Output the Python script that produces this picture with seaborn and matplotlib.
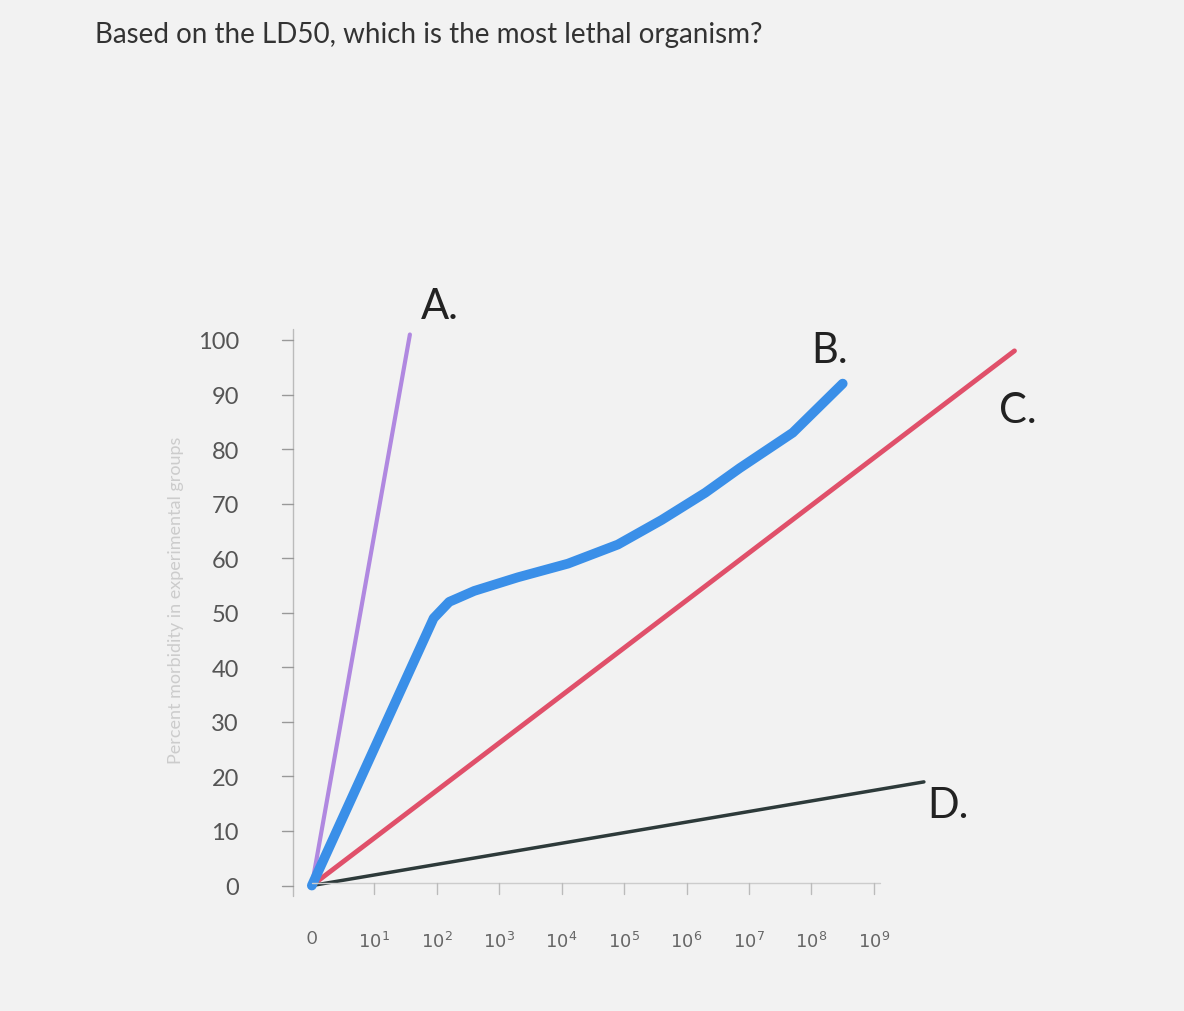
import matplotlib
matplotlib.use("Agg")
import matplotlib.pyplot as plt
import seaborn as sns
import pandas as pd

# x positions are in "decade" units: 0 -> 0, i -> 10^i
tick_pos = list(range(10))
tick_labels = ["0"] + [f"$10^{{{i}}}$" for i in range(1, 10)]
y_ticks = list(range(0, 101, 10))

a_x = [0, 1.57]
a_y = [0, 101]
b_x = [0, 1.95, 2.2, 2.6, 3.3, 4.1, 4.9, 5.6, 6.3, 6.85, 7.7, 8.5]
b_y = [0, 49, 52, 54, 56.5, 59, 62.5, 67, 72, 76.5, 83, 92]
c_x = [0, 11.25]
c_y = [0, 98]
d_x = [0, 9.8]
d_y = [0, 19]

sns.set_style("white")
plt.rcParams['font.family'] = ['Lato', 'DejaVu Sans']

fig = plt.figure(figsize=(11.84, 10.12), dpi=100)
fig.patch.set_facecolor("#f2f2f2")
fig.text(0.08, 0.965, "Based on the LD50, which is the most lethal organism?",
         fontsize=20, color="#333333", va="center")

ax = fig.add_axes([0.237, 0.097, 0.633, 0.62])
ax.set_facecolor("#f2f2f2")

lines = [
    (a_x, a_y, "#b088e0", 3, "A."),
    (c_x, c_y, "#e0506a", 3.5, "C."),
    (d_x, d_y, "#2d3a3a", 2.5, "D."),
    (b_x, b_y, "#3a8fe8", 7, "B."),
]
for xs, ys, color, lw, name in lines:
    df = pd.DataFrame({"x": xs, "y": ys})
    sns.lineplot(data=df, x="x", y="y", color=color, linewidth=lw, ax=ax,
                 sort=False, solid_capstyle="round")

ax.text(1.75, 104, "A.", fontsize=30, color="#222222")
ax.text(8.0, 96, "B.", fontsize=30, color="#222222")
ax.text(11.0, 85, "C.", fontsize=30, color="#222222")
ax.text(9.85, 12.5, "D.", fontsize=30, color="#222222")

ax.set_xlim(-0.5, 11.5)
ax.set_ylim(-5, 110)
ax.set_xticks(tick_pos)
ax.set_xticklabels(tick_labels, fontsize=13, color="#666666")
ax.set_yticks(y_ticks)
ax.set_yticklabels([str(v) for v in y_ticks], fontsize=17, color="#555555")
ax.tick_params(axis="y", length=0, pad=30)
ax.tick_params(axis="x", length=0, pad=12)
ax.set_xlabel("")
ax.set_ylabel("Percent morbidity in experimental groups", fontsize=13,
              color="#cccccc", labelpad=10)
for s in ax.spines.values():
    s.set_visible(False)
# faint axis lines and tick marks
ax.plot([-0.3, -0.3], [-2, 102], color="#bbbbbb", lw=1, clip_on=False)
ax.plot([0, 9.1], [0.5, 0.5], color="#cccccc", lw=1, clip_on=False)
for v in y_ticks:
    ax.plot([-0.48, -0.3], [v, v], color="#999999", lw=1, clip_on=False)
for p in tick_pos[1:]:
    ax.plot([p, p], [0.5, -1.5], color="#bbbbbb", lw=1, clip_on=False)

fig.savefig("out.png", dpi=100, facecolor=fig.get_facecolor())
